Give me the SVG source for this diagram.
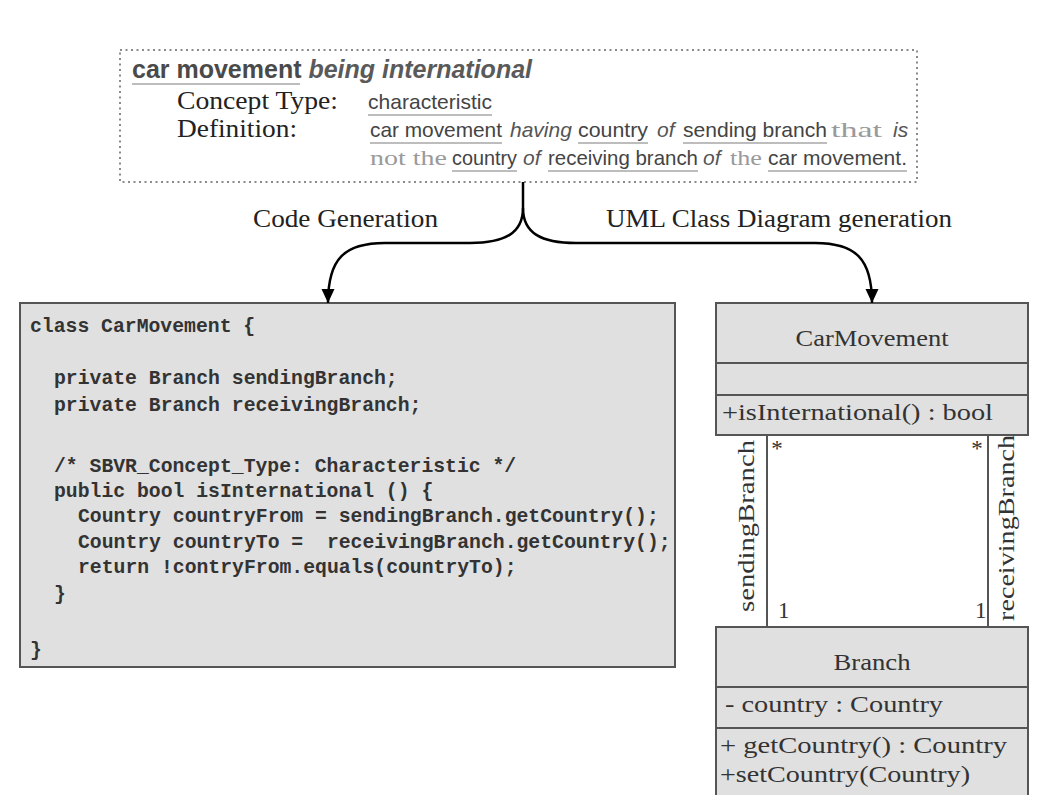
<svg xmlns="http://www.w3.org/2000/svg" width="1041" height="795" viewBox="0 0 1041 795">
<style>
.sans{font-family:"Liberation Sans",Arial,sans-serif;font-size:21px;fill:#444}
.it{font-style:italic;fill:#555}
.ser{font-family:"Liberation Serif","Times New Roman",serif;fill:#222}
.lite{font-family:"Liberation Serif","Times New Roman",serif;font-size:22px;fill:#9a9a9a}
.ul{stroke:#bdbdbd;stroke-width:2.2;fill:none}
.code{font-family:"Liberation Mono","Courier New",monospace;font-size:19.75px;font-weight:bold;fill:#333;white-space:pre}
.box{fill:#e0e0e0;stroke:#555;stroke-width:2}
.line{stroke:#555;stroke-width:2;fill:none}
.conn{stroke:#000;stroke-width:2.5;fill:none}
.uml{font-family:"Liberation Serif","Times New Roman",serif;font-size:23px;fill:#333}
</style>
<defs>
<marker id="arr" markerWidth="14" markerHeight="16" viewBox="0 0 14 16" refX="14" refY="8" orient="auto" markerUnits="userSpaceOnUse">
<path d="M0,1.5 L14,8 L0,14.5 Z" fill="#000"/>
</marker>
</defs>

<g id="sbvr-definition">
<rect x="120" y="50" width="797" height="132" fill="#fff" stroke="#8a8a8a" stroke-width="2" stroke-dasharray="2 3.5"/>
<text x="132" y="78" font-family="'Liberation Sans',Arial,sans-serif" font-size="25" font-weight="bold" textLength="400" lengthAdjust="spacingAndGlyphs"><tspan fill="#4a4a4a">car movement</tspan><tspan fill="#5a5a5a" font-style="italic"> being international</tspan></text>
<line class="ul" x1="132" y1="84" x2="300" y2="84" stroke-width="2.6"/>
<text class="ser" x="177" y="109" font-size="25" textLength="161" lengthAdjust="spacingAndGlyphs">Concept Type:</text>
<text class="sans" x="368" y="109" textLength="124" lengthAdjust="spacingAndGlyphs">characteristic</text>
<line class="ul" x1="368" y1="115" x2="492" y2="115"/>
<text class="ser" x="177" y="137" font-size="25" textLength="120" lengthAdjust="spacingAndGlyphs">Definition:</text>
<text class="sans" x="370" y="137" textLength="132" lengthAdjust="spacingAndGlyphs">car movement</text>
<line class="ul" x1="370" y1="143" x2="502" y2="143"/>
<text class="sans it" x="510" y="137">having</text>
<text class="sans" x="578" y="137" textLength="70" lengthAdjust="spacingAndGlyphs">country</text>
<line class="ul" x1="578" y1="143" x2="648" y2="143"/>
<text class="sans it" x="657" y="137">of</text>
<text class="sans" x="683" y="137" textLength="144" lengthAdjust="spacingAndGlyphs">sending branch</text>
<line class="ul" x1="683" y1="143" x2="827" y2="143"/>
<text class="lite" x="831" y="137" textLength="51" lengthAdjust="spacingAndGlyphs">that</text>
<text class="sans it" x="893" y="137">is</text>
<text class="lite" x="370" y="165" textLength="77" lengthAdjust="spacingAndGlyphs">not the</text>
<text class="sans" x="452" y="165" textLength="65" lengthAdjust="spacingAndGlyphs">country</text>
<line class="ul" x1="452" y1="171" x2="517" y2="171"/>
<text class="sans it" x="523" y="165">of</text>
<text class="sans" x="548" y="165" textLength="150" lengthAdjust="spacingAndGlyphs">receiving branch</text>
<line class="ul" x1="548" y1="171" x2="698" y2="171"/>
<text class="sans it" x="703" y="165">of</text>
<text class="lite" x="730" y="165" textLength="32" lengthAdjust="spacingAndGlyphs">the</text>
<text class="sans" x="768" y="165" textLength="139" lengthAdjust="spacingAndGlyphs">car movement.</text>
<line class="ul" x1="768" y1="171" x2="907" y2="171"/>
</g>

<g id="code-box">
<rect class="box" x="20" y="303" width="655" height="364"/>
<text class="code" x="30" y="332">class CarMovement {</text>
<text class="code" x="54" y="384">private Branch sendingBranch;</text>
<text class="code" x="54" y="411">private Branch receivingBranch;</text>
<text class="code" x="54" y="472">/* SBVR_Concept_Type: Characteristic */</text>
<text class="code" x="54" y="497">public bool isInternational () {</text>
<text class="code" x="78" y="522">Country countryFrom = sendingBranch.getCountry();</text>
<text class="code" x="78" y="548">Country countryTo =  receivingBranch.getCountry();</text>
<text class="code" x="78" y="573">return !contryFrom.equals(countryTo);</text>
<text class="code" x="54" y="600">}</text>
<text class="code" x="30" y="656">}</text>
</g>

<g id="uml-carmovement">
<rect class="box" x="716" y="303" width="312" height="132"/>
<line class="line" x1="716" y1="363" x2="1028" y2="363"/>
<line class="line" x1="716" y1="395" x2="1028" y2="395" stroke-width="3"/>
<text class="uml" x="872" y="346" text-anchor="middle" textLength="153" lengthAdjust="spacingAndGlyphs">CarMovement</text>
<text class="uml" x="722" y="420" textLength="271" lengthAdjust="spacingAndGlyphs">+isInternational() : bool</text>
</g>

<g id="uml-branch">
<rect class="box" x="716" y="627" width="312" height="180"/>
<line class="line" x1="716" y1="687" x2="1028" y2="687" stroke-width="3"/>
<line class="line" x1="716" y1="728" x2="1028" y2="728" stroke-width="3"/>
<text class="uml" x="872" y="670" text-anchor="middle" textLength="77" lengthAdjust="spacingAndGlyphs">Branch</text>
<text class="uml" x="725" y="712" textLength="218" lengthAdjust="spacingAndGlyphs">- country : Country</text>
<text class="uml" x="720" y="753" textLength="287" lengthAdjust="spacingAndGlyphs">+ getCountry() : Country</text>
<text class="uml" x="720" y="782" textLength="250" lengthAdjust="spacingAndGlyphs">+setCountry(Country)</text>
</g>

<g id="connectors">
<path class="conn" d="M523,182 L523,208 C523,233 505,243 470,243 L385,243 C345,243 328,258 328,303" marker-end="url(#arr)"/>
<path class="conn" d="M523,208 C523,233 541,243 576,243 L815,243 C855,243 872,258 872,303" marker-end="url(#arr)"/>
<text class="ser" x="253" y="227" font-size="25" textLength="185" lengthAdjust="spacingAndGlyphs">Code Generation</text>
<text class="ser" x="606" y="227" font-size="25" textLength="346" lengthAdjust="spacingAndGlyphs">UML Class Diagram generation</text>
<line class="line" x1="767" y1="435" x2="767" y2="627"/>
<line class="line" x1="988" y1="435" x2="988" y2="627"/>
<text class="uml" transform="translate(754,526) rotate(-90)" text-anchor="middle" textLength="172" lengthAdjust="spacingAndGlyphs">sendingBranch</text>
<text class="uml" transform="translate(1014,528) rotate(-90)" text-anchor="middle" textLength="186" lengthAdjust="spacingAndGlyphs">receivingBranch</text>
<text class="uml" x="777" y="456" font-size="20" text-anchor="middle">*</text>
<text class="uml" x="977" y="456" font-size="20" text-anchor="middle">*</text>
<text class="uml" x="778" y="618">1</text>
<text class="uml" x="975" y="618">1</text>
</g>
</svg>
